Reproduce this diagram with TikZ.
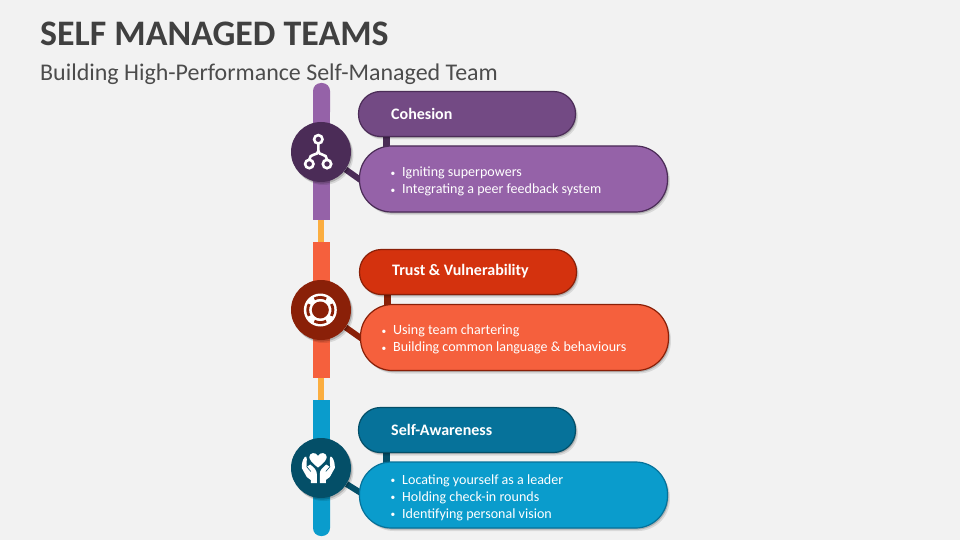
\documentclass[tikz,border=0pt]{standalone}
\usepackage{fontspec}
\setmainfont{Carlito}
\usetikzlibrary{shadows}
\pgfdeclarelayer{back}\pgfdeclarelayer{mid}
\pgfsetlayers{back,mid,main}
\definecolor{bg}{HTML}{F2F2F2}
\definecolor{orangebar}{HTML}{FBAE40}
\definecolor{pa}{HTML}{9562A8}\definecolor{pb}{HTML}{734A84}\definecolor{pc}{HTML}{4B2C57}
\definecolor{ra}{HTML}{F5603D}\definecolor{rb}{HTML}{D4320E}\definecolor{rc}{HTML}{8A2008}
\definecolor{ba}{HTML}{0A9CCC}\definecolor{bb}{HTML}{06729A}\definecolor{bc}{HTML}{044F68}
\tikzset{
  x=1pt,y=-1pt,
  softshadow/.style={
    drop shadow={shadow xshift=2.4pt,shadow yshift=-3pt,fill=black,opacity=.10},
    drop shadow={shadow xshift=1.2pt,shadow yshift=-1.6pt,fill=black,opacity=.18}},
  pill/.style={rectangle,rounded corners=#1,inner sep=0pt,softshadow,line width=1.2pt},
  headpill/.style={pill=22pt,minimum width=217pt,minimum height=45pt},
  bodypill/.style={pill=32pt,minimum width=308pt,minimum height=66pt},
  headtext/.style={anchor=west,inner sep=0pt,text=white,font=\fontsize{16}{18}\selectfont\bfseries},
  bodytext/.style={anchor=west,inner sep=0pt,text=white,align=left,font=\fontsize{14.05}{17}\selectfont},
  hub/.style={circle,minimum size=60pt,inner sep=0pt,softshadow},
  link/.style={line width=#1},
  iconline/.style={draw=white,line width=2.6pt},
}
\newcommand{\bul}{\makebox[11pt][l]{\kern-0.6pt\raisebox{0.9pt}{\fontsize{9.5}{9.5}\selectfont•}}}
\begin{document}
\begin{tikzpicture}
\useasboundingbox (0,0) rectangle (960,540);
\begin{pgfonlayer}{back}
\fill[bg] (0,0) rectangle (960,540);
\fill[orangebar] (317.5,218) rectangle (323.5,244);
\fill[orangebar] (317.5,376) rectangle (323.5,402);
\fill[pa,rounded corners=8pt] (313,83) rectangle (330,120);
\fill[pa] (313,100) rectangle (330,220);
\fill[ra] (313,242) rectangle (330,378);
\fill[ba] (313,400) rectangle (330,500);
\fill[ba,rounded corners=8pt] (313,480) rectangle (330,536);
\end{pgfonlayer}
\node[anchor=west,inner sep=0pt,text=black!75!white,font=\fontsize{35.9}{40}\selectfont\bfseries] (title) at (40,34) {SELF MANAGED TEAMS};
\node[anchor=west,inner sep=0pt,text=black!70!white,font=\fontsize{23.95}{27}\selectfont] (sub) at (40,74) {Building High-Performance Self-Managed Team};
% pills and hubs
\node[hub,fill=pc] (h1) at (321,152) {};
\node[hub,fill=rc] (h2) at (321,310) {};
\node[hub,fill=bc] (h3) at (321,468) {};
\node[headpill,fill=pb,draw=pc] (t1) at (467,114) {};
\node[headpill,fill=rb,draw=rc] (t2) at (468,272) {};
\node[headpill,fill=bb,draw=bc] (t3) at (467,430) {};
\node[bodypill,fill=pa,draw=pc] (b1) at (513.5,179) {};
\node[bodypill,fill=ra,draw=rc] (b2) at (514.5,337.5) {};
\node[bodypill,fill=ba,draw=bb] (b3) at (513.5,495) {};
% connectors behind the nodes
\begin{pgfonlayer}{mid}
\draw[link=7pt,pc] ([xshift=29pt]t1.south west) -- ([xshift=29pt]t1.south west |- b1.center);
\draw[link=7pt,rc] ([xshift=29pt]t2.south west) -- ([xshift=29pt]t2.south west |- b2.center);
\draw[link=7pt,bc] ([xshift=29pt]t3.south west) -- ([xshift=29pt]t3.south west |- b3.center);
\draw[link=6pt,pc] (h1) -- ([xshift=10pt,yshift=-7pt]b1.west);
\draw[link=6pt,rc] (h2) -- ([xshift=10pt,yshift=-7pt]b2.west);
\draw[link=6pt,bc] (h3) -- ([xshift=10pt,yshift=-3pt]b3.west);
\end{pgfonlayer}
% text
\node[headtext] (tt1) at (391,113.5) {Cohesion};
\node[headtext] (tt2) at (392,271.5) {Trust \& Vulnerability};
\node[headtext] (tt3) at (391,429.5) {Self-Awareness};
\node[bodytext] (bt1) at (391,181.8) {\bul Igniting superpowers\\\bul Integrating a peer feedback system};
\node[bodytext] (bt2) at (382,339.8) {\bul Using team chartering\\\bul Building common language \& behaviours};
\node[bodytext] (bt3) at (391,498.2) {\bul Locating yourself as a leader\\\bul Holding check-in rounds\\\bul Identifying personal vision};
% icon 1: hierarchy
\draw[iconline] (318.3,144) -- (318.3,151) .. controls (318.3,156) and (309.3,153) .. (309.3,159.5);
\draw[iconline] (318.3,151) .. controls (318.3,156) and (327,153) .. (327,159.5);
\draw[iconline] (318.3,139.3) circle (4.2);
\draw[iconline] (309.3,164) circle (4.2);
\draw[iconline] (327,164) circle (4.2);
% icon 2: life ring
\fill[white] (320.3,310) circle (16.5);
\fill[rc] (320.3,310) circle (8.5);
\foreach \a in {0,90,180,270}{
  \draw[rc,line width=2.8pt] (320.3,310) ++({\a-28}:12.6) arc[start angle=\a-28,end angle=\a+28,radius=12.6];
}
% icon 3: heart and hands
\fill[white] (318,467.5) .. controls (312,463) and (309.3,459.5) .. (309.3,457) .. controls (309.3,452.5) and (316,451.5) .. (318,456)
  .. controls (320,451.5) and (326.7,452.5) .. (326.7,457) .. controls (326.7,459.5) and (324,463) .. (318,467.5) -- cycle;
\foreach \s in {1,-1}{
\begin{scope}[xshift=318.3pt,xscale=\s]
\fill[white] (-13.5,457) .. controls (-16,460) and (-16.6,464) .. (-16.5,468) -- (-11.5,477) -- (-7.5,480) -- (-7.5,483) -- (-1.5,483) -- (-1.5,474)
  .. controls (-1.5,470) and (-4,468) .. (-8,464.5) -- (-11.8,467) -- (-11.5,459) .. controls (-11.5,456.5) and (-12.5,456) .. (-13.5,457) -- cycle;
\draw[bc,line width=.6pt] (-11.8,466.5) -- (-7.5,471.5);
\end{scope}
}
\end{tikzpicture}
\end{document}
